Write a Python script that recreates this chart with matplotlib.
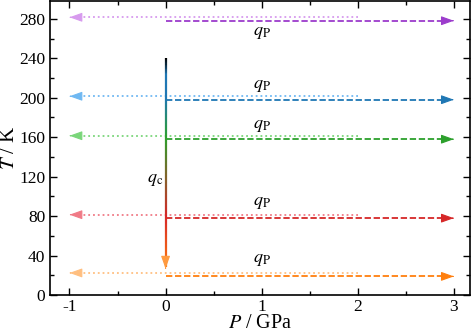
import numpy as np
import matplotlib
matplotlib.use('Agg')
import matplotlib.pyplot as plt
from matplotlib.collections import LineCollection
from matplotlib.colors import LinearSegmentedColormap

plt.rcParams['font.family'] = ['Liberation Serif', 'DejaVu Serif']
plt.rcParams['mathtext.fontset'] = 'stix'
plt.rcParams['axes.unicode_minus'] = False

# Temperatures of the isothermal paths (K)
temps = [280, 200, 160, 80, 21]
# Pressure range of the paths (GPa)
p_back_start, p_back_end = 2, -1
p_fwd_start, p_fwd_end = 0, 3
# Dark (dashed, forward) and light (dotted, backward) colours
dark_colors = ['#9c3ccc', '#1f77b4', '#2ca02c', '#d62728', '#ff7f0e']
light_colors = ['#d79aee', '#6fb8f2', '#7ad67a', '#f07a86', '#ffbf80']
# Label heights for q_P
label_T = [266, 212, 172, 94, 36]

# Cooling path along P = 0
cool_T_start, cool_T_end = 240, 24
cool_knots_T = [240, 224, 200, 160, 80, 24]
cool_knots_c = ['black', '#1f77b4', '#1f77b4', '#2ca02c', '#d62728', '#ff7f0e']

fig = plt.figure(figsize=(4.74, 3.32), dpi=100)
ax = fig.add_axes([0.106, 0.111, 0.886, 0.886])

head = '-|>,head_length=0.7,head_width=0.25'
off_up, off_dn = 1.5, -2.0
for T, dc, lc, ly in zip(temps, dark_colors, light_colors, label_T):
    # backward path, dotted, arrow at P = -1
    ax.plot([p_back_start, p_back_end + 0.06], [T + off_up] * 2, ls=':', color=lc, lw=1.3)
    ax.annotate('', xy=(p_back_end, T + off_up), xytext=(p_back_end + 0.04, T + off_up),
                arrowprops=dict(arrowstyle=head, color=lc, lw=0.8, mutation_scale=11))
    # forward path, dashed, arrow at P = 3
    ax.plot([p_fwd_start, p_fwd_end - 0.06], [T + off_dn] * 2, color=dc, lw=1.3,
            dashes=(3.5, 1.5))
    ax.annotate('', xy=(p_fwd_end, T + off_dn), xytext=(p_fwd_end - 0.04, T + off_dn),
                arrowprops=dict(arrowstyle=head, color=dc, lw=0.8, mutation_scale=11))
    ax.text(1.0, ly, r'$q_{\mathrm{P}}$', ha='center', va='center', fontsize=13)

# gradient coloured cooling line
span = cool_T_start - cool_T_end
knot_pos = [(cool_T_start - t) / span for t in cool_knots_T]
cmap = LinearSegmentedColormap.from_list('cool', list(zip(knot_pos, cool_knots_c)))
tt = np.linspace(cool_T_start, cool_T_end + 5, 200)
pts = np.array([np.zeros_like(tt), tt]).T.reshape(-1, 1, 2)
segs = np.concatenate([pts[:-1], pts[1:]], axis=1)
tmid = 0.5 * (tt[:-1] + tt[1:])
seg_colors = cmap((cool_T_start - tmid) / span)
ax.add_collection(LineCollection(segs, colors=seg_colors, lw=1.6))
ax.annotate('', xy=(0, cool_T_end), xytext=(0, cool_T_end + 6),
            arrowprops=dict(arrowstyle=head, color='#ff9a40', lw=0.8, mutation_scale=11))
ax.text(-0.11, 117, r'$q_{\mathrm{c}}$', ha='center', va='center', fontsize=13)

ax.set_xlim(-1.2, 3.17)
ax.set_ylim(0, 298)
ax.set_xticks([-1, 0, 1, 2, 3])
ax.set_xticks(np.arange(-1, 3.01, 0.5), minor=True)
ax.set_yticks(np.arange(0, 281, 40))
ax.set_yticks(np.arange(0, 291, 20), minor=True)
ax.tick_params(which='both', direction='in', top=True, right=True, labelsize=12.5)
ax.tick_params(which='major', length=5, width=1)
ax.tick_params(which='minor', length=3, width=1)
ax.tick_params(axis='x', which='major', pad=2.5)
for s in ax.spines.values():
    s.set_linewidth(1.2)
ax.set_xlabel(r'$P$ / GPa', fontsize=14.5, labelpad=-0.5)
ax.set_ylabel(r'$T$ / K', fontsize=15, labelpad=0)

fig.savefig('out.png', dpi=100)
